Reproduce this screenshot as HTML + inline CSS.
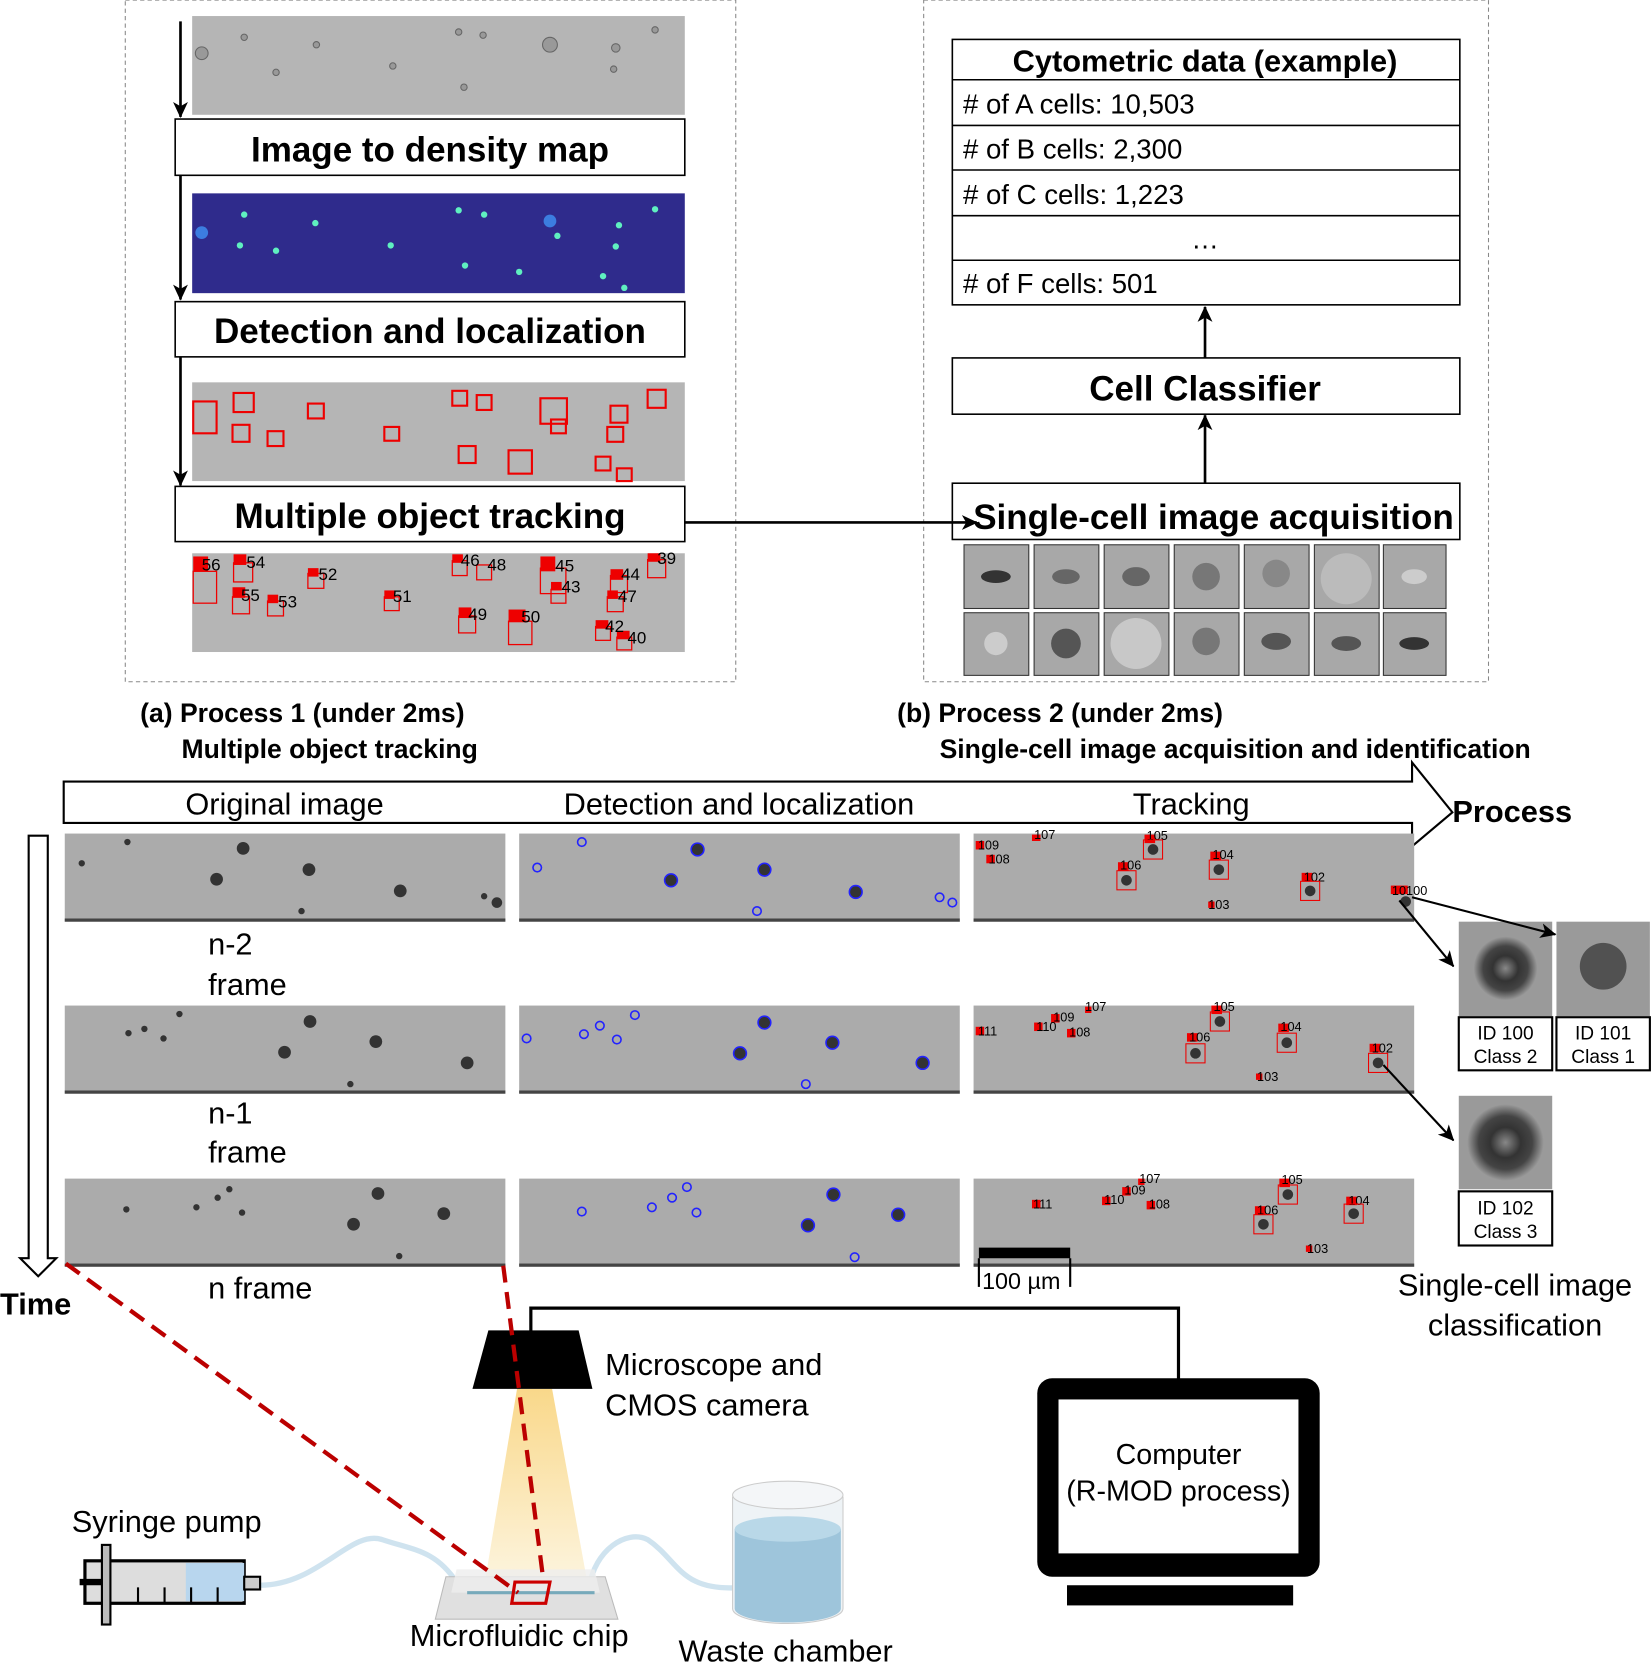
<!DOCTYPE html>
<html><head><meta charset="utf-8"><style>
html,body{margin:0;padding:0;background:#fff}
svg{display:block}
text{font-family:"Liberation Sans",Arial,sans-serif}
</style></head><body>
<svg width="1652" height="1665" viewBox="0 0 1556 1568" xmlns="http://www.w3.org/2000/svg">
<defs>
<marker id="ah" markerWidth="16" markerHeight="14" refX="14" refY="7" orient="auto" markerUnits="userSpaceOnUse"><path d="M0,0 L15,7 L0,14 L4,7 Z" fill="#000"/></marker>
<linearGradient id="cone" x1="0" y1="0" x2="0" y2="1"><stop offset="0" stop-color="#f9d88a"/><stop offset="1" stop-color="#fdf6e3"/></linearGradient>
<radialGradient id="cellg"><stop offset="0" stop-color="#888"/><stop offset="0.4" stop-color="#333"/><stop offset="0.7" stop-color="#444"/><stop offset="1" stop-color="#9a9a9a"/></radialGradient>
</defs>
<rect x="118" y="0" width="575" height="642" fill="none" stroke="#888" stroke-dasharray="4,3"/>
<rect x="870" y="0" width="532" height="642" fill="none" stroke="#888" stroke-dasharray="4,3"/>
<rect x="181" y="15" width="464" height="93" fill="#b5b5b5"/>
<g fill="#999" stroke="#666"><circle cx="190" cy="50" r="6"/><circle cx="230" cy="35" r="3"/><circle cx="298" cy="42" r="3"/><circle cx="432" cy="30" r="3"/><circle cx="455" cy="33" r="3"/><circle cx="518" cy="42" r="7"/><circle cx="580" cy="45" r="4"/><circle cx="437" cy="82" r="3"/><circle cx="260" cy="68" r="3"/><circle cx="370" cy="62" r="3"/><circle cx="578" cy="65" r="3"/><circle cx="617" cy="28" r="3"/></g>
<rect x="165" y="112" width="480" height="53" fill="#fff" stroke="#000" stroke-width="1.5"/>
<text x="405" y="152" font-size="33" font-weight="bold" text-anchor="middle">Image to density map</text>
<rect x="181" y="182" width="464" height="94" fill="#2f2b8c"/>
<g fill="#5ff0c0"><circle cx="230" cy="202" r="3"/><circle cx="297" cy="210" r="3"/><circle cx="432" cy="198" r="3"/><circle cx="456" cy="202" r="3"/><circle cx="525" cy="222" r="3"/><circle cx="583" cy="212" r="3"/><circle cx="617" cy="197" r="3"/><circle cx="226" cy="231" r="3"/><circle cx="260" cy="236" r="3"/><circle cx="368" cy="231" r="3"/><circle cx="438" cy="250" r="3"/><circle cx="489" cy="256" r="3"/><circle cx="568" cy="260" r="3"/><circle cx="580" cy="232" r="3"/><circle cx="588" cy="271" r="3"/></g>
<circle cx="190" cy="219" r="6" fill="#3c7de0"/><circle cx="518" cy="208" r="6" fill="#3c7de0"/>
<rect x="165" y="284" width="480" height="52" fill="#fff" stroke="#000" stroke-width="1.5"/>
<text x="405" y="323" font-size="33" font-weight="bold" text-anchor="middle">Detection and localization</text>
<rect x="181" y="360" width="464" height="93" fill="#b5b5b5"/>
<g fill="none" stroke="#e00" stroke-width="2"><rect x="182" y="378" width="22" height="30"/><rect x="220" y="370" width="19" height="18"/><rect x="219" y="400" width="16" height="16"/><rect x="252" y="406" width="15" height="14"/><rect x="290" y="380" width="15" height="14"/><rect x="362" y="402" width="14" height="13"/><rect x="426" y="368" width="14" height="14"/><rect x="449" y="372" width="14" height="14"/><rect x="509" y="375" width="25" height="24"/><rect x="519" y="395" width="14" height="13"/><rect x="575" y="382" width="16" height="16"/><rect x="572" y="402" width="15" height="14"/><rect x="610" y="367" width="17" height="17"/><rect x="432" y="420" width="16" height="16"/><rect x="479" y="424" width="22" height="22"/><rect x="561" y="430" width="14" height="13"/><rect x="581" y="441" width="14" height="12"/></g>
<rect x="165" y="458" width="480" height="52" fill="#fff" stroke="#000" stroke-width="1.5"/>
<text x="405" y="497" font-size="33" font-weight="bold" text-anchor="middle">Multiple object tracking</text>
<rect x="181" y="521" width="464" height="93" fill="#b5b5b5"/>
<g fill="none" stroke="#e00" stroke-width="1.2"><rect x="182" y="538" width="22" height="30"/><rect x="220" y="530" width="18" height="18"/><rect x="219" y="562" width="16" height="16"/><rect x="252" y="566" width="15" height="14"/><rect x="290" y="540" width="15" height="14"/><rect x="362" y="562" width="14" height="13"/><rect x="426" y="528" width="14" height="14"/><rect x="449" y="532" width="14" height="14"/><rect x="509" y="535" width="24" height="24"/><rect x="519" y="555" width="14" height="13"/><rect x="575" y="542" width="16" height="16"/><rect x="572" y="562" width="15" height="14"/><rect x="610" y="527" width="17" height="17"/><rect x="432" y="580" width="16" height="16"/><rect x="479" y="585" width="22" height="22"/><rect x="561" y="590" width="14" height="13"/><rect x="581" y="600" width="14" height="12"/></g>
<g fill="#e00"><rect x="182" y="524" width="14" height="14"/><rect x="220" y="522" width="12" height="10"/><rect x="219" y="553" width="12" height="10"/><rect x="252" y="560" width="10" height="8"/><rect x="290" y="535" width="10" height="8"/><rect x="362" y="556" width="10" height="8"/><rect x="426" y="522" width="10" height="8"/><rect x="509" y="524" width="14" height="14"/><rect x="519" y="548" width="10" height="8"/><rect x="575" y="536" width="12" height="10"/><rect x="572" y="556" width="10" height="8"/><rect x="610" y="521" width="12" height="8"/><rect x="432" y="572" width="12" height="10"/><rect x="479" y="574" width="16" height="12"/><rect x="561" y="584" width="12" height="8"/><rect x="581" y="594" width="12" height="8"/></g>
<g font-size="16"><text x="190" y="537">56</text><text x="232" y="535">54</text><text x="227" y="566">55</text><text x="262" y="572">53</text><text x="300" y="546">52</text><text x="370" y="567">51</text><text x="434" y="533">46</text><text x="459" y="537">48</text><text x="523" y="538">45</text><text x="529" y="558">43</text><text x="585" y="546">44</text><text x="582" y="567">47</text><text x="619" y="531">39</text><text x="441" y="584">49</text><text x="491" y="586">50</text><text x="570" y="595">42</text><text x="591" y="606">40</text></g>
<g fill="#fff" stroke="#000" stroke-width="1.5"><rect x="897" y="37" width="478" height="250"/></g>
<g stroke="#000" stroke-width="1.5"><line x1="897" y1="75" x2="1375" y2="75"/><line x1="897" y1="118" x2="1375" y2="118"/><line x1="897" y1="160" x2="1375" y2="160"/><line x1="897" y1="203" x2="1375" y2="203"/><line x1="897" y1="245" x2="1375" y2="245"/></g>
<text x="1135" y="67" font-size="29" font-weight="bold" text-anchor="middle">Cytometric data (example)</text>
<g font-size="26"><text x="907" y="107"># of A cells: 10,503</text><text x="907" y="149"># of B cells: 2,300</text><text x="907" y="192"># of C cells: 1,223</text><text x="1122" y="234">…</text><text x="907" y="276"># of F cells: 501</text></g>
<rect x="897" y="337" width="478" height="53" fill="#fff" stroke="#000" stroke-width="1.5"/>
<text x="1135" y="377" font-size="33" font-weight="bold" text-anchor="middle">Cell Classifier</text>
<rect x="897" y="455" width="478" height="53" fill="#fff" stroke="#000" stroke-width="1.5"/>
<text x="1143" y="498" font-size="33" font-weight="bold" text-anchor="middle">Single-cell image acquisition</text>
<g stroke="#000" stroke-width="2.5" fill="none" marker-end="url(#ah)"><line x1="170" y1="20" x2="170" y2="110"/><line x1="170" y1="165" x2="170" y2="282"/><line x1="170" y1="336" x2="170" y2="457"/><line x1="645" y1="492" x2="920" y2="492"/><line x1="1135" y1="455" x2="1135" y2="391"/><line x1="1135" y1="337" x2="1135" y2="289"/></g>
<g stroke="#333" stroke-width="1" fill="#a8a8a8">
<rect x="908" y="513" width="61" height="60"/><rect x="974" y="513" width="61" height="60"/><rect x="1040" y="513" width="61" height="60"/><rect x="1106" y="513" width="61" height="60"/><rect x="1172" y="513" width="61" height="60"/><rect x="1238" y="513" width="61" height="60"/><rect x="1303" y="513" width="59" height="60"/>
<rect x="908" y="577" width="61" height="59"/><rect x="974" y="577" width="61" height="59"/><rect x="1040" y="577" width="61" height="59"/><rect x="1106" y="577" width="61" height="59"/><rect x="1172" y="577" width="61" height="59"/><rect x="1238" y="577" width="61" height="59"/><rect x="1303" y="577" width="59" height="59"/></g>
<g fill="#666"><ellipse cx="938" cy="543" rx="14" ry="6" fill="#333"/><ellipse cx="1004" cy="543" rx="13" ry="7"/><ellipse cx="1070" cy="543" rx="13" ry="9"/><circle cx="1136" cy="543" r="13" fill="#777"/><circle cx="1202" cy="540" r="13" fill="#888"/><circle cx="1268" cy="545" r="24" fill="#bbb"/><ellipse cx="1332" cy="543" rx="12" ry="7" fill="#ccc"/>
<circle cx="938" cy="606" r="11" fill="#ccc"/><circle cx="1004" cy="606" r="14" fill="#555"/><circle cx="1070" cy="606" r="24" fill="#c8c8c8"/><circle cx="1136" cy="604" r="13" fill="#777"/><ellipse cx="1202" cy="604" rx="14" ry="8" fill="#555"/><ellipse cx="1268" cy="606" rx="14" ry="7" fill="#555"/><ellipse cx="1332" cy="606" rx="14" ry="6" fill="#333"/></g>
<g font-size="25" font-weight="bold"><text x="132" y="680">(a)  Process 1 (under 2ms)</text><text x="171" y="714">Multiple object tracking</text><text x="845" y="680">(b) Process 2 (under 2ms)</text><text x="885" y="714">Single-cell image acquisition and identification</text></g>
<path d="M60,736 L1330,736 L1330,718 L1368,765 L1330,797 L1330,775 L60,775 Z" fill="#fff" stroke="#000" stroke-width="2"/>
<g font-size="29"><text x="268" y="767" text-anchor="middle">Original image</text><text x="696" y="767" text-anchor="middle">Detection and localization</text><text x="1122" y="767" text-anchor="middle">Tracking</text></g>
<text x="1368" y="774" font-size="29" font-weight="bold">Process</text>
<path d="M27,787 L45,787 L45,1185 L53,1185 L36,1202 L19,1185 L27,1185 Z" fill="#fff" stroke="#000" stroke-width="2"/>
<text x="0" y="1238" font-size="29" font-weight="bold">Time</text>
<g fill="#ababab"><rect x="61" y="785" width="415" height="83"/><rect x="489" y="785" width="415" height="83"/><rect x="917" y="785" width="415" height="83"/><rect x="61" y="947" width="415" height="83"/><rect x="489" y="947" width="415" height="83"/><rect x="917" y="947" width="415" height="83"/><rect x="61" y="1110" width="415" height="83"/><rect x="489" y="1110" width="415" height="83"/><rect x="917" y="1110" width="415" height="83"/></g>
<g fill="#444"><rect x="61" y="865" width="415" height="3"/><rect x="489" y="865" width="415" height="3"/><rect x="917" y="865" width="415" height="3"/><rect x="61" y="1027" width="415" height="3"/><rect x="489" y="1027" width="415" height="3"/><rect x="917" y="1027" width="415" height="3"/><rect x="61" y="1190" width="415" height="3"/><rect x="489" y="1190" width="415" height="3"/><rect x="917" y="1190" width="415" height="3"/></g>
<g fill="#333"><circle cx="229" cy="799" r="6"/><circle cx="204" cy="828" r="6"/><circle cx="291" cy="819" r="6"/><circle cx="377" cy="839" r="6"/><circle cx="468" cy="850" r="5"/><circle cx="120" cy="793" r="3"/><circle cx="77" cy="813" r="3"/><circle cx="284" cy="858" r="3"/><circle cx="456" cy="844" r="3"/>
<circle cx="292" cy="962" r="6"/><circle cx="268" cy="991" r="6"/><circle cx="354" cy="981" r="6"/><circle cx="440" cy="1001" r="6"/><circle cx="136" cy="969" r="3"/><circle cx="154" cy="978" r="3"/><circle cx="169" cy="955" r="3"/><circle cx="121" cy="973" r="3"/><circle cx="330" cy="1021" r="3"/>
<circle cx="356" cy="1124" r="6"/><circle cx="333" cy="1153" r="6"/><circle cx="418" cy="1143" r="6"/><circle cx="119" cy="1139" r="3"/><circle cx="185" cy="1137" r="3"/><circle cx="205" cy="1128" r="3"/><circle cx="216" cy="1120" r="3"/><circle cx="228" cy="1142" r="3"/><circle cx="376" cy="1183" r="3"/></g>
<g fill="#333" stroke="#22f" stroke-width="1.5"><circle cx="657" cy="800" r="6"/><circle cx="632" cy="829" r="6"/><circle cx="720" cy="819" r="6"/><circle cx="806" cy="840" r="6"/><circle cx="720" cy="963" r="6"/><circle cx="697" cy="992" r="6"/><circle cx="784" cy="982" r="6"/><circle cx="869" cy="1001" r="6"/><circle cx="785" cy="1125" r="6"/><circle cx="761" cy="1154" r="6"/><circle cx="846" cy="1144" r="6"/></g>
<g fill="none" stroke="#22f" stroke-width="1.5"><circle cx="548" cy="793" r="4"/><circle cx="506" cy="817" r="4"/><circle cx="713" cy="858" r="4"/><circle cx="885" cy="845" r="4"/><circle cx="897" cy="850" r="4"/><circle cx="496" cy="978" r="4"/><circle cx="550" cy="974" r="4"/><circle cx="565" cy="966" r="4"/><circle cx="581" cy="979" r="4"/><circle cx="598" cy="956" r="4"/><circle cx="759" cy="1021" r="4"/><circle cx="548" cy="1141" r="4"/><circle cx="614" cy="1137" r="4"/><circle cx="633" cy="1128" r="4"/><circle cx="647" cy="1118" r="4"/><circle cx="656" cy="1142" r="4"/><circle cx="805" cy="1184" r="4"/></g>
<g fill="#e00"><rect x="919" y="792" width="8" height="8"/><rect x="929" y="805" width="8" height="8"/><rect x="972" y="786" width="8" height="6"/><rect x="1078" y="786" width="10" height="8"/><rect x="1053" y="812" width="10" height="8"/><rect x="1140" y="802" width="10" height="8"/><rect x="1226" y="822" width="10" height="8"/><rect x="1138" y="849" width="6" height="6"/><rect x="1310" y="834" width="16" height="8"/>
<rect x="919" y="967" width="8" height="8"/><rect x="974" y="963" width="8" height="8"/><rect x="990" y="955" width="8" height="8"/><rect x="1005" y="969" width="8" height="8"/><rect x="1022" y="948" width="6" height="6"/><rect x="1141" y="947" width="10" height="8"/><rect x="1118" y="973" width="10" height="8"/><rect x="1204" y="964" width="10" height="8"/><rect x="1290" y="983" width="10" height="8"/><rect x="1183" y="1011" width="6" height="6"/>
<rect x="972" y="1130" width="8" height="8"/><rect x="1038" y="1127" width="8" height="8"/><rect x="1057" y="1118" width="8" height="8"/><rect x="1072" y="1110" width="6" height="6"/><rect x="1080" y="1131" width="8" height="8"/><rect x="1205" y="1110" width="10" height="8"/><rect x="1182" y="1136" width="10" height="8"/><rect x="1268" y="1127" width="10" height="8"/><rect x="1230" y="1173" width="6" height="6"/></g>
<g font-size="12"><text x="921" y="800">109</text><text x="931" y="813">108</text><text x="974" y="790">107</text><text x="1080" y="791">105</text><text x="1055" y="819">106</text><text x="1142" y="809">104</text><text x="1228" y="830">102</text><text x="1138" y="856">103</text><text x="1311" y="843">10100</text>
<text x="921" y="975">111</text><text x="976" y="971">110</text><text x="992" y="962">109</text><text x="1007" y="976">108</text><text x="1022" y="952">107</text><text x="1143" y="952">105</text><text x="1120" y="981">106</text><text x="1206" y="971">104</text><text x="1292" y="991">102</text><text x="1184" y="1018">103</text>
<text x="973" y="1138">111</text><text x="1040" y="1134">110</text><text x="1059" y="1125">109</text><text x="1073" y="1114">107</text><text x="1082" y="1138">108</text><text x="1207" y="1115">105</text><text x="1184" y="1144">106</text><text x="1270" y="1135">104</text><text x="1231" y="1180">103</text></g>
<g fill="#333"><circle cx="1086" cy="800" r="5"/><circle cx="1061" cy="829" r="5"/><circle cx="1148" cy="819" r="5"/><circle cx="1234" cy="839" r="5"/><circle cx="1149" cy="962" r="5"/><circle cx="1126" cy="992" r="5"/><circle cx="1212" cy="982" r="5"/><circle cx="1298" cy="1001" r="5"/><circle cx="1213" cy="1125" r="5"/><circle cx="1190" cy="1153" r="5"/><circle cx="1275" cy="1143" r="5"/><circle cx="1324" cy="849" r="5"/></g>
<g fill="none" stroke="#e00" stroke-width="1"><rect x="1077" y="791" width="18" height="18"/><rect x="1052" y="820" width="18" height="18"/><rect x="1139" y="810" width="18" height="18"/><rect x="1225" y="830" width="18" height="18"/><rect x="1140" y="953" width="18" height="18"/><rect x="1117" y="983" width="18" height="18"/><rect x="1203" y="973" width="18" height="18"/><rect x="1289" y="992" width="18" height="18"/><rect x="1204" y="1116" width="18" height="18"/><rect x="1181" y="1144" width="18" height="18"/><rect x="1266" y="1134" width="18" height="18"/></g>
<rect x="922" y="1175" width="86" height="10" fill="#000"/>
<line x1="922" y1="1185" x2="922" y2="1212" stroke="#000" stroke-width="2"/><line x1="1008" y1="1185" x2="1008" y2="1212" stroke="#000" stroke-width="2"/>
<text x="925" y="1214" font-size="22">100 µm</text>
<g font-size="29"><text x="196" y="899">n-2</text><text x="196" y="937">frame</text><text x="196" y="1058">n-1</text><text x="196" y="1095">frame</text><text x="196" y="1223">n frame</text></g>
<rect x="1374" y="868" width="88" height="89" fill="#9a9a9a"/><circle cx="1418" cy="912" r="30" fill="url(#cellg)"/>
<rect x="1466" y="868" width="88" height="89" fill="#9a9a9a"/><circle cx="1510" cy="910" r="22" fill="#444" opacity="0.85"/>
<rect x="1374" y="1032" width="88" height="88" fill="#9a9a9a"/><circle cx="1418" cy="1076" r="36" fill="url(#cellg)"/>
<g fill="#fff" stroke="#000" stroke-width="2"><rect x="1374" y="958" width="88" height="50"/><rect x="1466" y="958" width="88" height="50"/><rect x="1374" y="1122" width="88" height="51"/></g>
<g font-size="18" text-anchor="middle"><text x="1418" y="979">ID 100</text><text x="1418" y="1001">Class 2</text><text x="1510" y="979">ID 101</text><text x="1510" y="1001">Class 1</text><text x="1418" y="1144">ID 102</text><text x="1418" y="1166">Class 3</text></g>
<g stroke="#000" stroke-width="2" marker-end="url(#ah)"><line x1="1330" y1="845" x2="1465" y2="880"/><line x1="1318" y1="848" x2="1369" y2="910"/><line x1="1303" y1="1003" x2="1369" y2="1074"/></g>
<g font-size="29" text-anchor="middle"><text x="1427" y="1220">Single-cell image</text><text x="1427" y="1258">classification</text></g>
<polyline points="500,1255 500,1232 1110,1232 1110,1300" fill="none" stroke="#000" stroke-width="3"/>
<polygon points="487,1308 520,1308 555,1500 455,1500" fill="url(#cone)"/>
<polygon points="460,1253 545,1253 558,1308 445,1308" fill="#000"/>
<g font-size="29"><text x="570" y="1295">Microscope and</text><text x="570" y="1333">CMOS camera</text></g>
<rect x="977" y="1298" width="266" height="187" rx="14" fill="#000"/>
<rect x="997" y="1318" width="226" height="145" fill="#fff"/>
<rect x="1005" y="1493" width="213" height="19" fill="#000"/>
<g font-size="27" text-anchor="middle"><text x="1110" y="1379">Computer</text><text x="1110" y="1413">(R-MOD process)</text></g>
<path d="M245,1493 C300,1493 330,1440 360,1450 C390,1460 410,1460 430,1490" fill="none" stroke="#cfe3ef" stroke-width="5"/>
<path d="M555,1495 C560,1460 590,1440 610,1450 C640,1470 640,1500 700,1495" fill="none" stroke="#cfe3ef" stroke-width="5"/>
<polygon points="420,1485 570,1485 582,1525 410,1525" fill="#e0e0e0" stroke="#bbb"/>
<polygon points="430,1478 560,1478 565,1500 425,1500" fill="#eee" opacity="0.8"/>
<line x1="440" y1="1500" x2="560" y2="1500" stroke="#7ab" stroke-width="3"/>
<polygon points="485,1490 518,1490 514,1510 482,1510" fill="none" stroke="#c00" stroke-width="3"/>
<g stroke="#b00" stroke-width="4" stroke-dasharray="16,9"><line x1="62" y1="1190" x2="488" y2="1500"/><line x1="474" y1="1192" x2="512" y2="1490"/></g>
<text x="489" y="1550" font-size="29" text-anchor="middle">Microfluidic chip</text>
<rect x="80" y="1470" width="150" height="40" fill="#ddd" stroke="#000" stroke-width="3"/>
<rect x="175" y="1472" width="55" height="36" fill="#b8d6ee"/>
<rect x="96" y="1455" width="8" height="75" fill="#bbb" stroke="#000" stroke-width="2"/>
<line x1="75" y1="1490" x2="96" y2="1490" stroke="#000" stroke-width="6"/>
<rect x="230" y="1485" width="15" height="12" fill="#ccc" stroke="#000" stroke-width="2"/>
<g stroke="#000" stroke-width="2"><line x1="130" y1="1495" x2="130" y2="1510"/><line x1="155" y1="1495" x2="155" y2="1510"/><line x1="180" y1="1495" x2="180" y2="1510"/><line x1="205" y1="1495" x2="205" y2="1510"/></g>
<text x="157" y="1443" font-size="29" text-anchor="middle">Syringe pump</text>
<path d="M690,1410 L690,1515 A52,14 0 0 0 794,1515 L794,1410 Z" fill="#eef3f6" stroke="#ccc"/>
<path d="M692,1440 L692,1515 A50,13 0 0 0 792,1515 L792,1440 Z" fill="#9ec5db"/>
<ellipse cx="742" cy="1440" rx="50" ry="12" fill="#b9d8e8"/>
<ellipse cx="742" cy="1408" rx="52" ry="13" fill="#f4f6f8" stroke="#ccc"/>
<text x="740" y="1565" font-size="29" text-anchor="middle">Waste chamber</text>
</svg>
</body></html>
